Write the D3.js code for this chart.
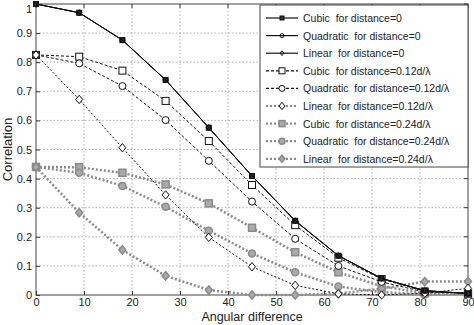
<!DOCTYPE html>
<html><head><meta charset="utf-8">
<script src="https://cdn.jsdelivr.net/npm/d3@7"></script>
<style>body{margin:0;background:#fff}svg text{font-family:"Liberation Sans",Arial,sans-serif}</style>
</head><body>
<svg id="c" width="474" height="325"></svg>
<script>
const angles = [0, 9, 18, 27, 36, 45, 54, 63, 72, 81, 90];
const xTicks = [0,10,20,30,40,50,60,70,80,90];
const yTicks = [0,0.1,0.2,0.3,0.4,0.5,0.6,0.7,0.8,0.9,1];
const cubic0   = [1.0, 0.97, 0.876, 0.739, 0.575, 0.409, 0.255, 0.135, 0.057, 0.015, 0.005];
const quad0    = [1.0, 0.97, 0.876, 0.739, 0.575, 0.409, 0.255, 0.135, 0.057, 0.015, 0.005];
const lin0     = [1.0, 0.97, 0.876, 0.739, 0.575, 0.409, 0.255, 0.135, 0.057, 0.015, 0.005];
const cubic12  = [0.825, 0.819, 0.771, 0.667, 0.529, 0.378, 0.24, 0.128, 0.055, 0.012, 0.005];
const quad12   = [0.825, 0.796, 0.718, 0.601, 0.461, 0.321, 0.193, 0.1, 0.045, 0.01, 0.008];
const lin12    = [0.825, 0.672, 0.506, 0.344, 0.198, 0.097, 0.033, 0.004, 0.0, 0.006, 0.023];
const cubic24  = [0.44, 0.439, 0.42, 0.38, 0.315, 0.231, 0.147, 0.078, 0.03, 0.006, 0.004];
const quad24   = [0.44, 0.42, 0.375, 0.303, 0.221, 0.143, 0.078, 0.029, 0.01, 0.002, 0.004];
const lin24    = [0.44, 0.283, 0.155, 0.066, 0.017, 0.0, 0.0, 0.005, 0.022, 0.046, 0.046];
const labels = ["Cubic  for distance=0","Quadratic  for distance=0","Linear  for distance=0",
  "Cubic  for distance=0.12d/\u03bb","Quadratic  for distance=0.12d/\u03bb","Linear  for distance=0.12d/\u03bb",
  "Cubic  for distance=0.24d/\u03bb","Quadratic  for distance=0.24d/\u03bb","Linear  for distance=0.24d/\u03bb"];

const K="#111", G="#8a8a8a";
const series = [
 {v:cubic0, m:"sq", c:K, dash:null, w:1, ms:5, fill:"#333"},
 {v:quad0, m:"ci", c:K, dash:null, w:1, ms:5, fill:"none"},
 {v:lin0, m:"di", c:K, dash:null, w:1, ms:5, fill:"none"},
 {v:cubic12, m:"sq", c:K, dash:"3,2", w:1, ms:7, fill:"#fff"},
 {v:quad12, m:"ci", c:K, dash:"3,2", w:1, ms:7, fill:"#fff"},
 {v:lin12, m:"di", c:K, dash:"2,2", w:1, ms:7, fill:"#fff"},
 {v:cubic24, m:"sq", c:G, dash:"2,2", w:2.5, ms:7, fill:"#aaa"},
 {v:quad24, m:"ci", c:G, dash:"2,2", w:2.5, ms:7, fill:"#aaa"},
 {v:lin24, m:"di", c:G, dash:"2,2", w:2.5, ms:7, fill:"#aaa"}
];

const svg = d3.select("#c");
const L=36, R=468, T=4, B=295;
const x = d3.scaleLinear().domain([0,90]).range([L,R]);
const y = d3.scaleLinear().domain([0,1]).range([B,T]);

// grid
const g = svg.append("g");
g.selectAll(".gx").data(xTicks.slice(1,-1)).enter().append("line")
 .attr("x1",d=>x(d)).attr("x2",d=>x(d)).attr("y1",T).attr("y2",B)
 .attr("stroke","#999").attr("stroke-width",0.8).attr("stroke-dasharray","1.5,2");
g.selectAll(".gy").data(yTicks.slice(1,-1)).enter().append("line")
 .attr("y1",d=>y(d)).attr("y2",d=>y(d)).attr("x1",L).attr("x2",R)
 .attr("stroke","#999").attr("stroke-width",0.8).attr("stroke-dasharray","1.5,2");

// axes
const xa = svg.append("g").attr("transform",`translate(0,${B})`)
 .call(d3.axisBottom(x).tickValues(xTicks).tickSize(-4).tickPadding(3).tickFormat(d3.format("d")));
const ya = svg.append("g").attr("transform",`translate(${L},0)`)
 .call(d3.axisLeft(y).tickValues(yTicks).tickSize(-4).tickPadding(4).tickFormat(d=>d===0?"0":d===1?"1":d3.format(".1f")(d)));
[xa,ya].forEach(a=>{a.select(".domain").remove();a.selectAll("line").attr("stroke","#333");
 a.selectAll("text").attr("font-size",11).attr("fill","#222");});
// keep the top "1" inside the picture
ya.selectAll(".tick").filter(d=>d===1).select("text").attr("dy","0.75em");
svg.append("rect").attr("x",L).attr("y",T).attr("width",R-L).attr("height",B-T)
 .attr("fill","none").attr("stroke","#444").attr("stroke-width",1);
// top and right ticks
svg.append("g").selectAll("line").data(xTicks).enter().append("line")
 .attr("x1",d=>x(d)).attr("x2",d=>x(d)).attr("y1",T).attr("y2",T+4).attr("stroke","#333");
svg.append("g").selectAll("line").data(yTicks).enter().append("line")
 .attr("y1",d=>y(d)).attr("y2",d=>y(d)).attr("x1",R).attr("x2",R-4).attr("stroke","#333");

svg.append("text").attr("x",(L+R)/2).attr("y",321).attr("text-anchor","middle")
 .attr("font-size",12.5).attr("fill","#222").text("Angular difference");
svg.append("text").attr("transform",`translate(12,${(T+B)/2}) rotate(-90)`).attr("text-anchor","middle")
 .attr("font-size",13).attr("fill","#222").text("Correlation");

function marker(sel, s, cx, cy){
  const r=s.ms/2;
  let el;
  if(s.m==="sq") el=sel.append("rect").attr("x",cx-r).attr("y",cy-r).attr("width",2*r).attr("height",2*r);
  else if(s.m==="ci") el=sel.append("circle").attr("cx",cx).attr("cy",cy).attr("r",r);
  else el=sel.append("path").attr("d",`M${cx},${cy-r*1.2}L${cx+r},${cy}L${cx},${cy+r*1.2}L${cx-r},${cy}Z`);
  el.attr("fill",s.fill).attr("stroke",s.c).attr("stroke-width",s.c===G?1.5:1);
}

const line = d3.line().x((d,i)=>x(angles[i])).y(d=>y(d));
[6,7,8,3,4,5,0,1,2].forEach(k=>{
  const s=series[k];
  svg.append("path").attr("d",line(s.v)).attr("fill","none").attr("stroke",s.c)
   .attr("stroke-width",s.w).attr("stroke-dasharray",s.dash);
  const mg=svg.append("g");
  s.v.forEach((v,i)=>marker(mg,s,x(angles[i]),y(v)));
});

// legend
const lx=260, ly=5, lw=R-lx, lh=162;
svg.append("rect").attr("x",lx).attr("y",ly).attr("width",lw).attr("height",lh)
 .attr("fill","#fff").attr("stroke","#444");
series.forEach((s,i)=>{
  const yy=ly+13+i*17.6;
  svg.append("line").attr("x1",lx+6).attr("x2",lx+38).attr("y1",yy).attr("y2",yy)
   .attr("stroke",s.c).attr("stroke-width",s.w===1?1.2:2.2).attr("stroke-dasharray",s.dash);
  const ls=Object.assign({},s,{ms:s.ms>5?6:4});
  marker(svg.append("g"),ls,lx+22,yy);
  svg.append("text").attr("x",lx+43).attr("y",yy+4).attr("font-size",10.5).attr("fill","#222")
   .attr("xml:space","preserve").style("white-space","pre").text(labels[i]);
});
</script>
</body></html>
